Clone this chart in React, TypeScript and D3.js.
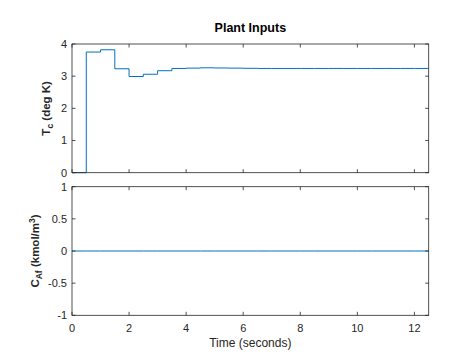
import React from "react";
import * as d3 from "d3";

const times = [0, 0.5, 1, 1.5, 2, 2.5, 3, 3.5, 4, 4.5, 5, 5.5, 6, 6.5, 7, 7.5, 8, 8.5, 9, 9.5, 10, 10.5, 11, 11.5, 12, 12.5];
const tcValues = [0, 3.75, 3.82, 3.23, 2.99, 3.06, 3.17, 3.24, 3.25, 3.26, 3.255, 3.25, 3.245, 3.24, 3.24, 3.24, 3.24, 3.24, 3.24, 3.24, 3.24, 3.24, 3.24, 3.24, 3.24, 3.24];
const cafValues = [0, 0, 0, 0, 0, 0, 0, 0, 0, 0, 0, 0, 0, 0, 0, 0, 0, 0, 0, 0, 0, 0, 0, 0, 0, 0];
const xTicks = [0, 2, 4, 6, 8, 10, 12];
const topYTicks = [0, 1, 2, 3, 4];
const botYTicks = [-1, -0.5, 0, 0.5, 1];

const W = 474, H = 355;
const left = 72, right = 428.7;
const top1 = 44, bot1 = 172.7;
const top2 = 186.7, bot2 = 315.3;
const axisColor = "#262626";
const lineColor = "#0072BD";
const font = "'Liberation Sans', Arial, Helvetica, sans-serif";
const tickLen = 3.5;

function Panel({ yDomain, yTicks, values, y0, y1, showX }: any) {
  const x = d3.scaleLinear().domain([0, 12.5]).range([left, right]);
  const y = d3.scaleLinear().domain(yDomain).range([y1, y0]);
  const line = d3.line<number>().x((_, i) => x(times[i])).y((d) => y(d)).curve(d3.curveStepAfter);
  return (
    <g>
      <path d={line(values) || ""} fill="none" stroke={lineColor} strokeWidth={1} />
      <rect x={left} y={y0} width={right - left} height={y1 - y0} fill="none" stroke={axisColor} strokeWidth={0.8} />
      {xTicks.map((t) => (
        <g key={"x" + t}>
          <line x1={x(t)} x2={x(t)} y1={y1} y2={y1 - tickLen} stroke={axisColor} strokeWidth={0.8} />
          <line x1={x(t)} x2={x(t)} y1={y0} y2={y0 + tickLen} stroke={axisColor} strokeWidth={0.8} />
          {showX && (
            <text x={x(t)} y={y1 + 17} textAnchor="middle" fontSize={11} fill={axisColor} fontFamily={font}>
              {t}
            </text>
          )}
        </g>
      ))}
      {yTicks.map((t: number) => (
        <g key={"y" + t}>
          <line x1={left} x2={left + tickLen} y1={y(t)} y2={y(t)} stroke={axisColor} strokeWidth={0.8} />
          <line x1={right} x2={right - tickLen} y1={y(t)} y2={y(t)} stroke={axisColor} strokeWidth={0.8} />
          <text x={left - 5} y={y(t)} dy="0.35em" textAnchor="end" fontSize={11} fill={axisColor} fontFamily={font}>
            {t}
          </text>
        </g>
      ))}
    </g>
  );
}

export default function App() {
  const cx = (left + right) / 2;
  return (
    <svg width={W} height={H} style={{ position: "absolute", left: 0, top: 0, background: "#fff" }}>
      <rect x={0} y={0} width={W} height={H} fill="#fff" />
      <text x={cx} y={32} textAnchor="middle" fontSize={12.5} fontWeight="bold" fill="#000" fontFamily={font}>
        Plant Inputs
      </text>
      <Panel yDomain={[0, 4]} yTicks={topYTicks} values={tcValues} y0={top1} y1={bot1} showX={false} />
      <Panel yDomain={[-1, 1]} yTicks={botYTicks} values={cafValues} y0={top2} y1={bot2} showX={true} />
      <text x={cx} y={347} textAnchor="middle" fontSize={12} fill={axisColor} fontFamily={font}>
        Time (seconds)
      </text>
      <text transform={`translate(50, ${(top1 + bot1) / 2}) rotate(-90)`} textAnchor="middle" fontSize={11.5} fontWeight="bold" fill={axisColor} fontFamily={font}>
        T<tspan fontSize={8.5} dy={3}>c</tspan><tspan dy={-3}> (deg K)</tspan>
      </text>
      <text transform={`translate(39, ${(top2 + bot2) / 2}) rotate(-90)`} textAnchor="middle" fontSize={11.5} fontWeight="bold" fill={axisColor} fontFamily={font}>
        C<tspan fontSize={8.5} dy={3}>Af</tspan><tspan dy={-3}> (kmol/m</tspan><tspan fontSize={8.5} dy={-4}>3</tspan><tspan dy={4}>)</tspan>
      </text>
    </svg>
  );
}
